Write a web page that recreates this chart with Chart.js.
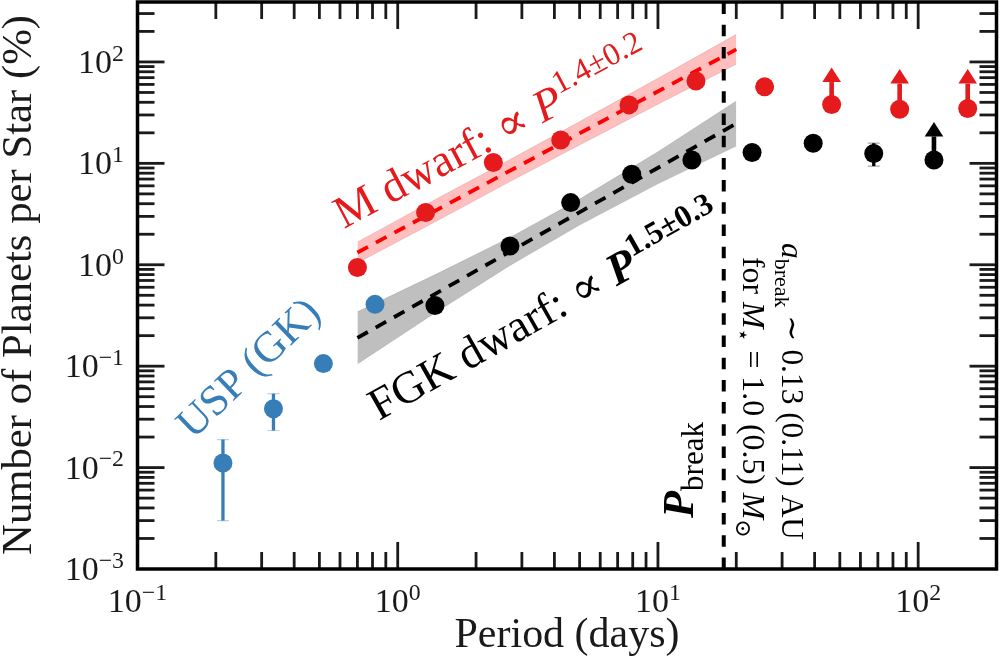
<!DOCTYPE html>
<html><head><meta charset="utf-8">
<script src="https://cdn.jsdelivr.net/npm/chart.js@4.4.1/dist/chart.umd.min.js"></script>
<style>html,body{margin:0;padding:0;background:#fff;}canvas{display:block;}</style>
</head><body>
<canvas id="c" width="1000" height="664"></canvas>
<script>
// ---------- data ----------
const USP_P    = [0.213, 0.333, 0.518, 0.818];
const USP_RATE = [0.0111, 0.0380, 0.106, 0.407];
const USP_LO   = [0.0030, 0.0232, null, null];
const USP_HI   = [0.0189, 0.0535, null, null];

const M_P     = [0.70, 1.28, 2.33, 4.23, 7.74, 14.0, 25.7, 46.5, 84.9, 155];
const M_RATE  = [0.94, 3.27, 10.2, 17.0, 37.7, 65.0, 56.8, 38.0, 34.2, 34.8];
const M_LIMIT = [null, null, null, null, null, null, null, 88, 85, 85];

const FGK_P     = [1.39, 2.70, 4.62, 7.93, 13.5, 23.0, 39.5, 67.5, 115];
const FGK_RATE  = [0.397, 1.53, 4.10, 7.80, 10.8, 12.8, 15.8, 12.5, 10.8];
const FGK_LO    = [null, null, null, null, null, null, null, 9.4, null];
const FGK_HI    = [null, null, null, null, null, null, null, 15.8, null];
const FGK_LIMIT = [null, null, null, null, null, null, null, null, 25.6];

const FIT_P   = [0.7, 20];
const M_FIT   = [1.32, 133];
const FGK_FIT = [0.19, 24.7];

const BAND_P      = [0.7, 1.4, 2.7, 5, 10, 20];
const M_BAND_HI   = [1.68, 4.42, 10.9, 25.8, 69.0, 187];
const M_BAND_LO   = [1.04, 2.67, 6.61, 15.2, 38.3, 94.8];
const FGK_BAND_HI = [0.344, 0.804, 1.86, 4.44, 13.0, 41.2];
const FGK_BAND_LO = [0.105, 0.338, 0.984, 2.46, 6.28, 14.8];

const P_BREAK = 17.9;
const X_RANGE = [0.1, 200];
const Y_RANGE = [0.001, 390];
const X_TICKS = [0.1, 1, 10, 100];
const X_TICK_EXP = ['\u22121', '0', '1', '2'];
const Y_TICKS = [0.001, 0.01, 0.1, 1, 10, 100];
const Y_TICK_EXP = ['\u22123', '\u22122', '\u22121', '0', '1', '2'];

// ---------- style ----------
const SERIF = '"Liberation Serif","DejaVu Serif",serif';
const RED = '#e41a1c', BLUE = '#377eb8', INK = '#1a1a1a';

const pts = (xs, ys) => xs.map((x, i) => ({x: x, y: ys[i]}));

function fontOf(p, base) {
  return (p.it ? 'italic ' : '') + (p.b ? 'bold ' : '') + ((p.rel || 1) * base).toFixed(2) + 'px ' + SERIF;
}
function richWidth(ctx, parts, base) {
  let w = 0;
  for (const p of parts) { ctx.font = fontOf(p, base); w += ctx.measureText(p.t).width + (p.gap || 0) * base; }
  return w;
}
function fitBase(ctx, parts, target) { return 100 * target / richWidth(ctx, parts, 100); }
function drawRich(ctx, parts, base, x, y, angle, align, color) {
  ctx.save();
  ctx.translate(x, y); ctx.rotate(angle);
  ctx.fillStyle = color; ctx.textBaseline = 'alphabetic'; ctx.textAlign = 'left';
  const total = richWidth(ctx, parts, base);
  let cx = align === 'center' ? -total / 2 : (align === 'right' ? -total : 0);
  for (const p of parts) {
    ctx.font = fontOf(p, base);
    ctx.fillText(p.t, cx, (p.dy || 0) * base);
    cx += ctx.measureText(p.t).width + (p.gap || 0) * base;
  }
  ctx.restore();
}

function errorBars(ctx, xs, ys, lo, hi, sx, sy, color, w) {
  ctx.save();
  for (let i = 0; i < xs.length; i++) {
    if (lo[i] == null) continue;
    const px = sx.getPixelForValue(xs[i]);
    const p1 = sy.getPixelForValue(lo[i]), p2 = sy.getPixelForValue(hi[i]);
    ctx.strokeStyle = color; ctx.lineWidth = w;
    ctx.beginPath(); ctx.moveTo(px, p1); ctx.lineTo(px, p2); ctx.stroke();
    ctx.globalAlpha = 0.35; ctx.lineWidth = 1.2;
    ctx.beginPath(); ctx.moveTo(px - 6, p1); ctx.lineTo(px + 6, p1);
    ctx.moveTo(px - 6, p2); ctx.lineTo(px + 6, p2); ctx.stroke();
    ctx.globalAlpha = 1;
  }
  ctx.restore();
}
function arrows(ctx, xs, ys, lim, sx, sy, color) {
  ctx.save(); ctx.fillStyle = color; ctx.strokeStyle = color;
  for (let i = 0; i < xs.length; i++) {
    if (lim[i] == null) continue;
    const px = sx.getPixelForValue(xs[i]);
    const p0 = sy.getPixelForValue(ys[i]), pt = sy.getPixelForValue(lim[i]);
    const head = 14.5, hw = 9.3;
    ctx.lineWidth = 4.6;
    ctx.beginPath(); ctx.moveTo(px, p0); ctx.lineTo(px, pt + head); ctx.stroke();
    ctx.beginPath(); ctx.moveTo(px, pt); ctx.lineTo(px - hw, pt + head); ctx.lineTo(px + hw, pt + head); ctx.closePath(); ctx.fill();
  }
  ctx.restore();
}

const decor = {
  id: 'decor',
  beforeDraw(chart) {
    const c = chart.ctx; c.save(); c.fillStyle = '#fff'; c.fillRect(0, 0, chart.width, chart.height); c.restore();
  },
  afterDatasetsDraw(chart) {
    const ctx = chart.ctx, sx = chart.scales.x, sy = chart.scales.y;
    errorBars(ctx, USP_P, USP_RATE, USP_LO, USP_HI, sx, sy, BLUE, 3.3);
    errorBars(ctx, FGK_P, FGK_RATE, FGK_LO, FGK_HI, sx, sy, '#000', 3.3);
    arrows(ctx, M_P, M_RATE, M_LIMIT, sx, sy, RED);
    arrows(ctx, FGK_P, FGK_RATE, FGK_LIMIT, sx, sy, '#000');

    // annotations
    const mParts = [{t: 'M dwarf: \u221D '}, {t: 'P', it: true}, {t: '1.4\u00B10.2', rel: 0.7, dy: -0.4}];
    drawRich(ctx, mParts, fitBase(ctx, mParts, 350), 344, 229, -28 * Math.PI / 180, 'left', RED);
    const fParts = [{t: 'FGK dwarf: \u221D '}, {t: 'P', it: true, b: true}, {t: '1.5\u00B10.3', rel: 0.7, dy: -0.4, b: true}];
    drawRich(ctx, fParts, fitBase(ctx, fParts, 397), 379, 421, -29.5 * Math.PI / 180, 'left', '#000');
    const uParts = [{t: 'USP (GK)'}];
    drawRich(ctx, uParts, fitBase(ctx, uParts, 180), 193, 440, -44 * Math.PI / 180, 'left', BLUE);

    const pb = [{t: 'P', it: true, b: true}, {t: 'break', rel: 0.7, dy: 0.22}];
    drawRich(ctx, pb, fitBase(ctx, pb, 96), 693, 518, -Math.PI / 2, 'left', '#000');

    const l1 = [{t: 'a', it: true}, {t: 'break', rel: 0.7, dy: 0.22}, {t: ' \u223C 0.13 (0.11) AU'}];
    drawRich(ctx, l1, fitBase(ctx, l1, 297), 782, 243, Math.PI / 2, 'left', '#000');
    const l2 = [{t: 'for '}, {t: 'M', it: true}, {t: '\u22C6', rel: 0.7, dy: 0.22}, {t: ' = 1.0 (0.5) '}, {t: 'M', it: true}, {t: '\u2299', rel: 0.7, dy: 0.22}];
    drawRich(ctx, l2, fitBase(ctx, l2, 281), 743, 257, Math.PI / 2, 'left', '#000');
  },
  afterDraw(chart) {
    const ctx = chart.ctx, a = chart.chartArea, sx = chart.scales.x, sy = chart.scales.y;
    ctx.save();
    ctx.strokeStyle = INK; ctx.lineWidth = 2.8;
    const seg = (x1, y1, x2, y2) => { ctx.beginPath(); ctx.moveTo(x1, y1); ctx.lineTo(x2, y2); ctx.stroke(); };
    const MAJ = 27, MIN = 17;
    for (let e = -1; e <= 2; e++) for (let m = 1; m <= 9; m++) {
      const v = m * Math.pow(10, e);
      const px = sx.getPixelForValue(v);
      if (px < a.left + 2 || px > a.right - 2) continue;
      const L = m === 1 ? MAJ : MIN;
      seg(px, a.bottom, px, a.bottom - L); seg(px, a.top, px, a.top + L);
    }
    for (let e = -3; e <= 2; e++) for (let m = 1; m <= 9; m++) {
      const v = m * Math.pow(10, e);
      const py = sy.getPixelForValue(v);
      if (py < a.top + 2 || py > a.bottom - 2) continue;
      const L = m === 1 ? MAJ : MIN;
      seg(a.left, py, a.left + L, py); seg(a.right, py, a.right - L, py);
    }
    ctx.strokeStyle = '#000'; ctx.lineWidth = 3.5;
    ctx.strokeRect(a.left, a.top, a.right - a.left, a.bottom - a.top);
    ctx.restore();

    Y_TICKS.forEach((v, i) => {
      const py = sy.getPixelForValue(v);
      drawRich(ctx, [{t: '10'}, {t: Y_TICK_EXP[i], rel: 0.7, dy: -0.36}], 34, 124, py + 11, 0, 'right', INK);
    });
    X_TICKS.forEach((v, i) => {
      const px = sx.getPixelForValue(v);
      drawRich(ctx, [{t: '10'}, {t: X_TICK_EXP[i], rel: 0.7, dy: -0.36}], 34, px, 612, 0, 'center', INK);
    });
    const yt = [{t: 'Number of Planets per Star (%)'}];
    drawRich(ctx, yt, fitBase(ctx, yt, 540), 31, 285, -Math.PI / 2, 'center', INK);
    const xt = [{t: 'Period (days)'}];
    drawRich(ctx, xt, fitBase(ctx, xt, 225), 567, 647, 0, 'center', INK);
  }
};

const lineDs = (data, color, width, dash, order, extra) => Object.assign({
  type: 'line', data: data, borderColor: color, borderWidth: width, borderDash: dash,
  pointRadius: 0, tension: 0, fill: false, order: order
}, extra || {});
const dotDs = (xs, ys, color) => ({
  type: 'scatter', data: pts(xs, ys), backgroundColor: color, borderColor: color,
  pointRadius: 9.5, pointBorderWidth: 0, showLine: false, order: 0
});

new Chart(document.getElementById('c'), {
  type: 'scatter',
  data: {
    datasets: [
      lineDs(pts(BAND_P, FGK_BAND_LO), 'rgba(0,0,0,0.10)', 1, [], 10),
      lineDs(pts(BAND_P, FGK_BAND_HI), 'rgba(0,0,0,0.10)', 1, [], 10, {fill: '-1', backgroundColor: 'rgba(0,0,0,0.25)'}),
      lineDs(pts(BAND_P, M_BAND_LO), 'rgba(120,60,60,0.15)', 1, [], 9),
      lineDs(pts(BAND_P, M_BAND_HI), 'rgba(120,60,60,0.15)', 1, [], 9, {fill: '-1', backgroundColor: 'rgba(255,0,0,0.25)'}),
      lineDs(pts(FIT_P, FGK_FIT), '#000', 3.8, [12, 9], 4),
      lineDs(pts(FIT_P, M_FIT), '#ff0000', 3.8, [12, 9], 4),
      lineDs(pts([P_BREAK, P_BREAK], Y_RANGE), '#000', 4, [11.5, 10.7], 3),
      dotDs(USP_P, USP_RATE, BLUE),
      dotDs(FGK_P, FGK_RATE, '#000'),
      dotDs(M_P, M_RATE, RED)
    ]
  },
  options: {
    responsive: false, devicePixelRatio: 1, animation: false,
    layout: {autoPadding: false, padding: {left: 137.5, right: 3.5, top: 2, bottom: 95}},
    plugins: {legend: {display: false}, tooltip: {enabled: false}},
    scales: {
      x: {type: 'logarithmic', min: X_RANGE[0], max: X_RANGE[1], display: false},
      y: {type: 'logarithmic', min: Y_RANGE[0], max: Y_RANGE[1], display: false}
    }
  },
  plugins: [decor]
});
</script>
</body></html>
